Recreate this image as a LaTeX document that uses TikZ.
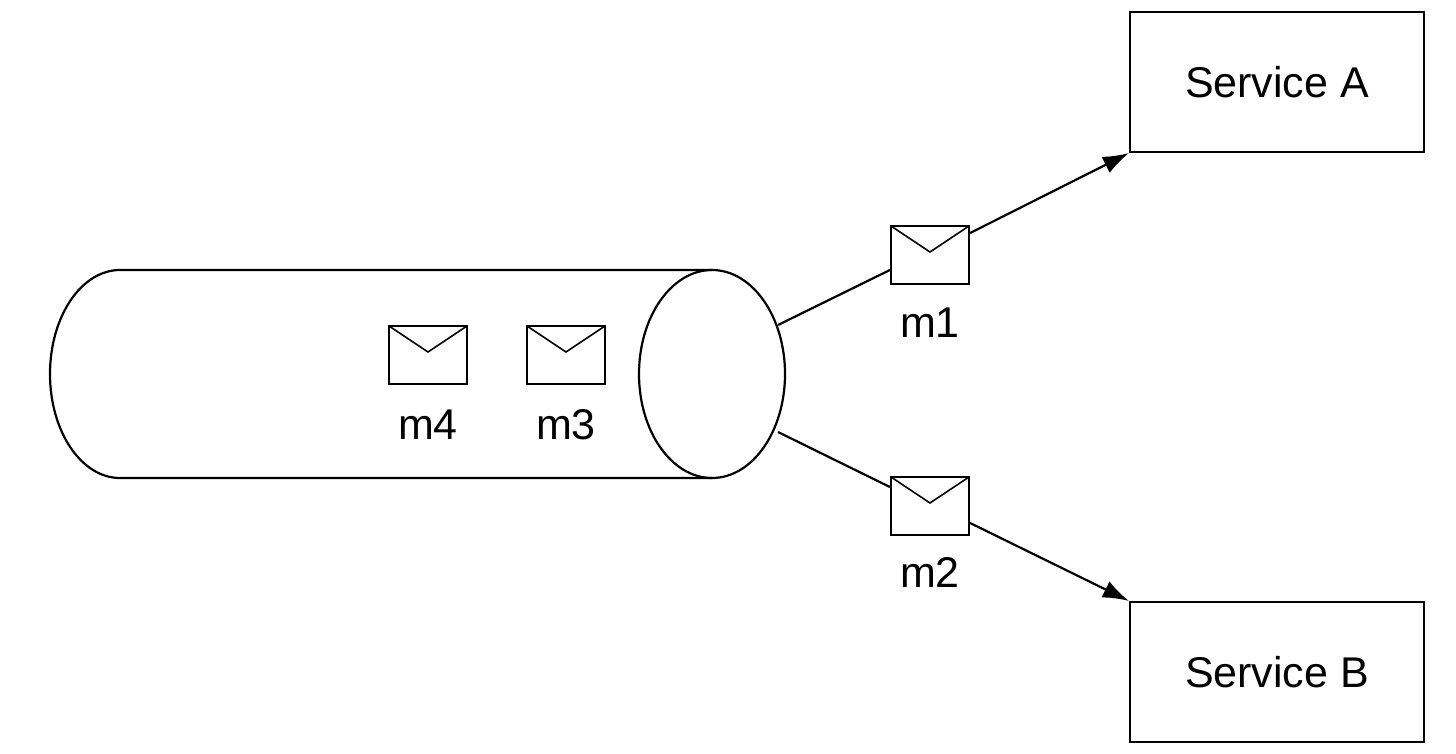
\documentclass[tikz,border=0pt]{standalone}
\usepackage{fontspec}
\setmainfont{Liberation Sans}
\usetikzlibrary{arrows.meta}
\begin{document}
\begin{tikzpicture}[x=1pt,y=-1pt,line width=2.2pt,
  env/.style={draw,minimum width=78pt,minimum height=58pt,inner sep=0pt,
    path picture={\draw[line width=1.6pt] (path picture bounding box.north west) -- ([yshift=-26pt]path picture bounding box.north) -- (path picture bounding box.north east);}},
  lbl/.style={font=\fontsize{43}{43}\selectfont},
  svc/.style={draw,minimum width=294pt,minimum height=140pt,font=\fontsize{43}{43}\selectfont},
  arr/.style={-{Latex[length=26pt,width=18pt]}}]
\useasboundingbox (0,0) rectangle (1456,753);
% cylinder
\draw (712,270) -- (120,270) arc[start angle=270,end angle=90,x radius=70,y radius=104] -- (712,478);
\draw (712,374) ellipse[x radius=73,y radius=104];
\node[env] (m4) at (428,355) {};
\node[env] (m3) at (566,355) {};
\node[lbl] at (428,425) {m4};
\node[lbl] at (566,425) {m3};
\node[env] (m1) at (930,255) {};
\node[lbl] at (930,323) {m1};
\node[env] (m2) at (930,506) {};
\node[lbl] at (930,572) {m2};
\node[svc] (A) at (1277,82) {Service A};
\node[svc] (B) at (1277,672) {Service B};
\coordinate (q1) at (778,325);
\coordinate (q2) at (778,432);
\draw (q1) -- (m1.west |- 0,270);
\draw[arr] (m1.east |- 0,233) -- (A.south west);
\draw (q2) -- (m2.west |- 0,487);
\draw[arr] (m2.east |- 0,523) -- (B.north west);
\end{tikzpicture}
\end{document}
